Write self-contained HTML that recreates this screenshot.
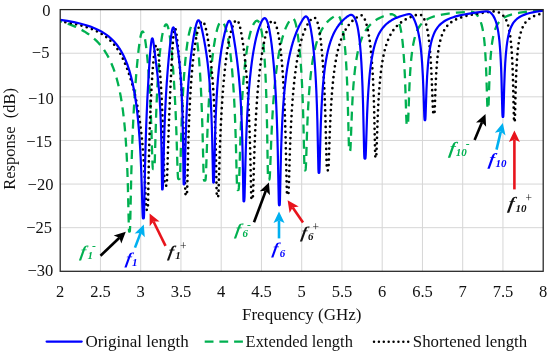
<!DOCTYPE html>
<html><head><meta charset="utf-8"><title>Response vs Frequency</title>
<style>
html,body{margin:0;padding:0;background:#fff}
body{width:550px;height:357px;overflow:hidden}
svg{display:block}
text{font-family:"Liberation Serif","Times New Roman",serif}
.tk{font-size:16.5px}
.ax{font-size:17px}
.lg{font-size:17px}
.fl{font-size:16.5px;font-style:italic;font-weight:bold}
.sb{font-size:11px}
.sp{font-size:11.5px;font-weight:normal;font-style:normal}
</style></head><body>
<svg width="550" height="357" viewBox="0 0 550 357" fill="#111">
<rect width="550" height="357" fill="#fff"/>
<path d="M100.45 9.6 V271.3 M140.70 9.6 V271.3 M180.95 9.6 V271.3 M221.20 9.6 V271.3 M261.45 9.6 V271.3 M301.70 9.6 V271.3 M341.95 9.6 V271.3 M382.20 9.6 V271.3 M422.45 9.6 V271.3 M462.70 9.6 V271.3 M502.95 9.6 V271.3 M60.2 53.22 H543.2 M60.2 96.83 H543.2 M60.2 140.45 H543.2 M60.2 184.07 H543.2 M60.2 227.68 H543.2" stroke="#d6d6d6" stroke-width="1" fill="none"/>
<clipPath id="c"><rect x="60.2" y="9.6" width="483.0" height="261.7"/></clipPath>
<g clip-path="url(#c)" fill="none" stroke-linejoin="round">
<path d="M60.20 21.35 L65.75 23.06 L70.90 24.90 L75.70 26.90 L80.15 29.05 L84.30 31.38 L88.20 33.92 L91.80 36.63 L93.55 38.10 L95.20 39.60 L96.80 41.15 L98.35 42.78 L101.25 46.16 L103.95 49.80 L106.50 53.77 L108.85 58.01 L111.05 62.61 L113.05 67.45 L114.90 72.65 L116.55 78.03 L118.05 83.69 L119.45 89.82 L120.70 96.21 L121.85 103.08 L122.90 110.46 L123.85 118.35 L124.70 126.78 L125.35 134.42 L125.95 142.73 L126.50 151.82 L126.95 160.74 L127.45 172.92 L127.90 187.01 L128.85 228.12 L129.05 231.25 L129.15 231.56 L129.50 231.60 L129.65 231.57 L129.75 231.45 L129.90 230.76 L130.15 225.99 L131.25 175.47 L131.70 159.58 L132.25 143.60 L133.30 119.60 L133.90 108.38 L134.60 96.83 L135.55 83.14 L136.55 70.60 L137.65 58.63 L138.70 48.88 L139.70 41.29 L140.60 36.15 L141.05 34.25 L141.50 32.84 L141.95 31.93 L142.35 31.54 L142.70 31.52 L143.05 31.80 L143.35 32.29 L143.70 33.14 L144.35 35.51 L145.05 39.15 L145.75 43.82 L146.50 49.88 L147.25 57.03 L147.95 64.77 L148.65 73.70 L149.30 83.31 L149.90 93.64 L150.45 104.73 L151.25 124.79 L152.25 157.46 L152.55 165.03 L152.75 167.63 L152.95 168.68 L153.05 168.87 L153.20 168.98 L153.95 168.99 L154.20 168.83 L154.40 168.10 L154.55 166.62 L154.70 163.90 L156.05 117.75 L156.60 103.08 L157.25 89.03 L157.80 79.18 L158.45 69.34 L159.15 60.46 L159.90 52.49 L160.90 43.89 L161.95 36.87 L162.50 33.89 L163.05 31.35 L163.60 29.20 L164.20 27.31 L164.80 25.86 L165.35 24.96 L165.65 24.64 L165.90 24.48 L166.15 24.42 L166.40 24.46 L166.65 24.60 L166.90 24.84 L167.40 25.65 L167.90 26.91 L168.40 28.65 L169.00 31.41 L169.60 34.89 L170.20 39.07 L170.85 44.38 L172.10 56.77 L173.30 71.57 L174.55 90.89 L175.65 112.88 L176.40 132.15 L177.45 166.26 L177.80 175.00 L178.00 177.52 L178.20 178.59 L178.35 178.88 L178.50 178.98 L179.35 178.99 L179.55 178.91 L179.65 178.76 L179.85 177.84 L180.00 176.14 L180.15 173.18 L181.50 127.17 L182.10 111.35 L182.75 97.40 L183.35 86.66 L184.00 76.75 L184.70 67.63 L185.50 58.79 L186.50 49.63 L187.55 41.87 L188.65 35.47 L189.20 32.86 L189.80 30.44 L190.40 28.45 L191.00 26.88 L191.60 25.74 L192.15 25.09 L192.45 24.90 L192.70 24.84 L193.00 24.88 L193.25 25.02 L193.80 25.64 L194.30 26.61 L195.05 28.86 L195.75 31.86 L196.45 35.79 L197.15 40.68 L197.85 46.60 L198.50 53.09 L199.10 60.05 L199.70 68.09 L200.30 77.40 L200.85 87.34 L201.35 97.86 L201.85 110.23 L202.55 132.00 L203.45 169.26 L203.70 176.95 L203.85 179.25 L204.05 180.38 L204.25 180.59 L205.05 180.59 L205.25 180.51 L205.40 180.29 L205.60 179.46 L205.80 177.46 L205.95 174.89 L207.60 127.28 L208.30 111.73 L209.05 98.06 L209.80 86.62 L210.65 75.64 L211.60 65.28 L212.60 56.06 L213.85 46.50 L215.15 38.47 L215.80 35.10 L216.50 31.92 L217.20 29.19 L217.90 26.89 L218.60 25.01 L219.30 23.54 L220.00 22.48 L220.70 21.83 L221.05 21.65 L221.40 21.56 L221.80 21.59 L222.15 21.71 L222.85 22.26 L223.60 23.27 L224.20 24.39 L224.80 25.78 L225.40 27.45 L226.00 29.39 L227.15 33.93 L228.30 39.64 L229.35 46.02 L230.35 53.34 L231.30 61.67 L232.15 70.54 L232.95 80.48 L233.70 91.64 L234.35 103.27 L234.95 116.24 L235.80 140.23 L236.80 179.73 L237.05 186.83 L237.20 188.87 L237.35 189.71 L237.55 189.98 L238.20 190.00 L238.40 189.95 L238.55 189.76 L238.75 188.84 L238.90 187.14 L239.05 184.17 L240.45 136.80 L241.05 121.31 L241.75 106.70 L242.40 95.51 L243.15 84.65 L243.95 74.91 L244.80 66.16 L245.90 56.73 L247.10 48.34 L248.40 41.01 L249.75 34.94 L250.50 32.14 L251.25 29.70 L252.00 27.59 L252.80 25.67 L253.60 24.06 L254.45 22.68 L255.30 21.64 L256.10 20.98 L256.75 20.73 L257.35 20.75 L257.95 21.05 L258.55 21.66 L259.10 22.52 L259.65 23.71 L260.20 25.26 L260.70 27.02 L261.65 31.42 L262.55 37.17 L263.35 43.96 L264.05 51.63 L264.75 61.46 L265.35 72.22 L265.90 84.73 L266.35 97.65 L267.05 125.40 L267.80 170.59 L267.95 176.81 L268.05 178.73 L268.15 179.45 L268.30 179.67 L268.85 179.69 L269.10 179.64 L269.25 179.51 L269.50 178.79 L269.70 177.31 L269.90 174.62 L270.20 168.28 L271.10 144.16 L271.75 129.16 L272.50 115.00 L273.35 101.95 L274.20 91.17 L275.10 81.56 L276.10 72.53 L277.20 64.13 L278.60 55.20 L280.10 47.32 L280.90 43.70 L281.75 40.22 L282.60 37.09 L283.50 34.12 L284.45 31.31 L285.40 28.83 L286.45 26.41 L287.50 24.29 L288.65 22.29 L289.85 20.51 L290.90 19.24 L291.80 18.48 L292.45 18.23 L293.00 18.30 L293.55 18.69 L294.10 19.41 L294.60 20.37 L295.10 21.67 L295.60 23.32 L296.10 25.34 L297.15 30.78 L298.20 37.83 L299.20 46.17 L300.10 55.40 L300.75 63.43 L301.35 72.20 L301.90 81.81 L302.35 91.20 L302.90 105.34 L303.35 120.14 L304.40 166.79 L304.50 168.79 L304.65 170.03 L304.80 170.27 L305.15 170.29 L305.35 170.25 L305.45 170.13 L305.60 169.64 L305.75 168.45 L305.90 166.21 L306.15 160.06 L306.95 134.82 L307.45 121.81 L308.15 107.41 L308.95 94.68 L309.85 83.50 L310.85 73.69 L312.00 64.74 L313.25 57.00 L314.00 53.10 L314.80 49.41 L315.65 45.96 L316.55 42.72 L317.50 39.70 L318.55 36.77 L319.65 34.06 L320.80 31.58 L322.00 29.30 L323.30 27.12 L324.65 25.15 L326.10 23.30 L327.60 21.63 L329.20 20.10 L330.85 18.74 L332.75 17.38 L334.30 16.38 L335.45 15.74 L336.30 15.37 L337.00 15.23 L337.65 15.31 L338.25 15.61 L338.85 16.17 L339.45 17.02 L340.05 18.21 L340.65 19.79 L341.20 21.61 L341.75 23.81 L342.80 29.21 L343.75 35.71 L344.55 42.74 L345.25 50.42 L345.90 59.25 L346.50 69.38 L347.15 83.41 L347.70 98.94 L348.95 147.86 L349.05 149.66 L349.20 150.96 L349.30 151.26 L349.40 151.36 L349.85 151.39 L350.00 151.35 L350.10 151.22 L350.25 150.69 L350.40 149.46 L350.55 147.26 L352.00 109.34 L352.65 96.91 L353.35 86.50 L354.10 77.66 L355.00 69.24 L356.00 61.83 L357.10 55.32 L357.75 52.09 L358.45 49.01 L359.20 46.09 L360.00 43.33 L360.85 40.75 L361.75 38.34 L362.70 36.09 L363.70 33.99 L364.75 32.04 L365.90 30.16 L367.10 28.42 L368.40 26.76 L369.75 25.24 L371.20 23.79 L372.75 22.42 L374.40 21.14 L376.35 19.82 L378.40 18.61 L380.60 17.50 L382.90 16.50 L385.70 15.47 L388.55 14.62 L390.30 14.26 L391.65 14.22 L392.80 14.45 L393.90 14.93 L394.95 15.70 L395.90 16.68 L396.85 18.01 L397.70 19.54 L398.50 21.37 L399.20 23.35 L399.85 25.59 L400.45 28.07 L401.00 30.79 L401.55 34.02 L402.50 41.19 L403.35 50.00 L404.15 61.39 L404.85 75.05 L405.35 87.84 L406.20 115.12 L406.45 121.31 L406.60 123.52 L406.80 124.92 L406.90 125.20 L407.05 125.36 L407.60 125.40 L407.70 125.37 L407.80 125.23 L407.95 124.54 L408.20 120.94 L409.25 90.51 L409.70 80.57 L410.20 71.88 L410.70 64.97 L411.25 58.83 L411.85 53.41 L412.55 48.31 L413.40 43.39 L414.40 38.87 L415.50 35.00 L416.75 31.59 L417.45 30.01 L418.15 28.63 L418.95 27.24 L419.75 26.01 L420.60 24.87 L421.55 23.75 L422.50 22.77 L423.55 21.82 L424.60 20.98 L425.75 20.17 L428.20 18.76 L431.00 17.50 L434.20 16.39 L437.80 15.42 L441.95 14.56 L446.65 13.81 L452.00 13.15 L456.45 12.71 L461.15 12.33 L469.65 11.74 L471.45 11.75 L472.30 11.89 L473.10 12.13 L473.90 12.48 L474.65 12.92 L475.45 13.52 L476.25 14.25 L477.00 15.05 L477.70 15.93 L478.85 17.70 L479.85 19.68 L480.75 21.94 L481.60 24.64 L482.35 27.68 L483.00 30.98 L483.60 34.79 L484.15 39.17 L484.65 44.15 L485.10 49.74 L485.85 62.55 L486.40 76.24 L487.10 99.80 L487.35 106.22 L487.45 107.64 L487.60 108.68 L487.75 108.96 L488.05 109.00 L488.15 108.97 L488.25 108.79 L488.35 108.26 L488.55 105.41 L489.40 79.99 L490.05 65.67 L490.65 56.52 L491.40 48.35 L491.90 44.22 L492.45 40.50 L493.05 37.18 L493.70 34.24 L494.45 31.47 L495.25 29.07 L496.15 26.87 L497.15 24.89 L498.25 23.12 L499.50 21.50 L500.90 20.04 L502.45 18.74 L504.20 17.57 L506.10 16.54 L508.25 15.61 L510.60 14.79 L513.30 14.03 L516.35 13.34 L519.75 12.72 L523.60 12.15 L528.00 11.62 L532.90 11.15 L538.30 10.73 L543.20 10.45" stroke="#00b050" stroke-width="2.3" stroke-dasharray="9 6.2" stroke-dashoffset="7.3"/>
<path d="M60.20 21.35 L66.95 22.41 L73.10 23.57 L78.75 24.85 L83.95 26.27 L88.75 27.84 L93.20 29.57 L97.30 31.48 L101.05 33.54 L104.55 35.82 L106.20 37.04 L107.80 38.32 L109.35 39.67 L110.85 41.08 L112.30 42.57 L113.65 44.07 L114.95 45.63 L116.25 47.33 L118.65 50.85 L120.90 54.71 L123.00 58.92 L125.60 64.88 L128.00 71.06 L130.20 77.45 L132.25 84.19 L134.10 91.12 L135.80 98.42 L137.35 106.08 L138.75 114.12 L139.80 121.08 L140.80 128.69 L141.70 136.62 L142.50 144.84 L143.40 155.89 L144.20 168.01 L144.75 178.05 L145.75 199.44 L146.10 205.62 L146.30 207.91 L146.55 209.42 L146.80 209.92 L146.95 209.99 L147.35 210.00 L147.50 209.98 L147.60 209.89 L147.75 209.28 L147.90 207.17 L148.00 204.38 L148.75 166.55 L149.25 145.47 L149.90 124.31 L150.70 104.20 L151.60 86.44 L152.55 71.58 L153.55 59.47 L154.05 54.75 L154.55 50.97 L155.15 47.72 L155.45 46.63 L155.75 45.90 L156.05 45.51 L156.20 45.45 L156.35 45.48 L156.65 45.79 L156.95 46.45 L157.25 47.46 L157.55 48.80 L158.15 52.48 L158.75 57.44 L159.40 64.16 L160.15 73.60 L160.90 84.92 L161.60 97.44 L162.20 110.08 L163.15 135.26 L164.25 174.47 L164.55 182.24 L164.75 184.63 L164.95 185.48 L165.10 185.65 L165.30 185.70 L166.10 185.69 L166.35 185.55 L166.55 185.08 L166.75 183.81 L167.10 178.09 L168.35 138.97 L169.20 115.82 L170.40 88.25 L171.85 59.16 L172.70 44.76 L173.40 35.86 L173.75 32.70 L174.10 30.42 L174.45 28.96 L174.65 28.47 L174.85 28.22 L174.95 28.19 L175.10 28.26 L175.40 28.79 L175.70 29.80 L176.05 31.50 L176.75 36.20 L177.60 43.47 L178.65 53.93 L179.70 65.72 L180.65 77.75 L181.50 90.02 L182.55 108.14 L183.45 127.89 L184.25 151.22 L185.20 187.47 L185.40 192.45 L185.50 193.88 L185.65 194.96 L185.75 195.25 L185.90 195.38 L186.50 195.39 L186.70 195.27 L186.90 194.43 L187.05 192.53 L187.30 185.48 L188.35 142.59 L188.80 128.57 L189.35 114.44 L190.05 99.83 L190.80 87.09 L191.65 75.25 L192.60 64.40 L193.60 55.03 L194.65 46.96 L195.80 39.77 L197.05 33.56 L197.70 30.89 L198.40 28.41 L199.10 26.29 L199.80 24.53 L200.50 23.12 L201.15 22.15 L201.80 21.56 L202.10 21.43 L202.40 21.40 L202.70 21.47 L202.95 21.61 L203.55 22.22 L204.15 23.27 L204.70 24.63 L205.30 26.54 L205.90 28.88 L207.15 34.92 L208.55 43.32 L209.85 52.72 L211.00 62.66 L212.05 73.58 L212.90 84.24 L213.65 95.62 L214.30 107.64 L214.90 121.42 L215.35 134.29 L215.75 148.49 L216.55 187.07 L216.75 194.30 L216.85 196.06 L217.00 197.05 L217.15 197.20 L217.70 197.19 L217.85 197.14 L218.00 196.97 L218.20 196.17 L218.40 194.07 L218.55 191.22 L219.60 156.93 L220.10 142.49 L220.80 125.87 L221.65 109.69 L222.50 96.51 L223.40 84.84 L224.45 73.42 L225.55 63.36 L227.00 52.39 L227.75 47.54 L228.55 42.92 L229.40 38.55 L230.25 34.71 L231.10 31.34 L232.00 28.26 L232.90 25.66 L233.85 23.41 L234.75 21.77 L235.20 21.14 L235.60 20.71 L236.00 20.42 L236.35 20.28 L236.75 20.27 L237.10 20.40 L237.50 20.72 L237.85 21.13 L238.55 22.39 L239.05 23.66 L239.60 25.41 L240.65 29.78 L241.80 35.90 L243.00 43.60 L244.10 51.88 L245.15 61.08 L246.10 70.78 L246.95 80.96 L247.70 91.55 L248.35 102.42 L248.95 114.42 L249.45 126.48 L250.25 152.07 L251.25 195.87 L251.35 197.81 L251.50 199.08 L251.65 199.37 L252.20 199.40 L252.40 199.35 L252.50 199.25 L252.70 198.61 L252.90 196.75 L253.05 194.10 L254.55 146.90 L255.20 131.25 L255.95 116.62 L256.70 104.55 L257.50 93.68 L258.40 83.28 L259.35 73.90 L260.60 63.44 L262.00 53.68 L263.50 45.02 L265.05 37.67 L265.85 34.44 L266.70 31.39 L267.55 28.72 L268.40 26.42 L269.25 24.49 L270.10 22.94 L270.90 21.85 L271.70 21.13 L272.10 20.92 L272.45 20.83 L272.80 20.83 L273.15 20.91 L273.85 21.33 L274.55 22.13 L275.25 23.33 L275.90 24.83 L276.55 26.72 L277.15 28.83 L277.80 31.55 L278.40 34.49 L279.55 41.42 L280.60 49.50 L281.60 59.13 L282.35 67.93 L283.05 77.70 L283.70 88.53 L284.30 100.51 L284.95 116.52 L285.55 135.45 L286.80 190.68 L286.95 193.59 L287.10 194.69 L287.20 194.92 L287.30 194.99 L287.80 195.00 L288.00 194.97 L288.15 194.84 L288.35 194.13 L288.50 192.77 L288.65 190.32 L288.90 183.75 L289.75 155.40 L290.25 141.57 L290.95 125.92 L291.80 110.94 L292.65 98.91 L293.65 87.35 L294.70 77.36 L295.90 67.91 L297.40 58.24 L298.20 53.84 L299.05 49.64 L299.95 45.64 L300.90 41.86 L301.90 38.31 L302.90 35.14 L303.95 32.18 L305.05 29.43 L306.20 26.91 L307.40 24.62 L308.70 22.50 L310.00 20.70 L311.30 19.23 L312.50 18.19 L313.25 17.76 L313.95 17.59 L314.60 17.70 L315.20 18.06 L315.80 18.71 L316.40 19.68 L316.95 20.89 L317.50 22.45 L318.05 24.39 L318.55 26.50 L319.60 32.15 L320.55 38.85 L321.45 46.82 L322.30 56.14 L323.10 66.90 L323.85 79.31 L324.50 92.54 L325.00 104.89 L325.45 118.21 L326.50 158.90 L326.80 167.35 L326.95 169.23 L327.10 170.01 L327.30 170.27 L327.85 170.30 L328.05 170.25 L328.15 170.13 L328.35 169.37 L328.65 165.47 L329.70 135.00 L330.20 122.56 L330.90 108.70 L331.70 96.37 L332.60 85.48 L333.60 75.87 L334.75 67.05 L336.05 59.09 L336.80 55.22 L337.60 51.56 L338.45 48.10 L339.40 44.68 L340.35 41.64 L341.40 38.67 L342.50 35.92 L343.65 33.37 L344.90 30.92 L346.20 28.67 L347.55 26.61 L349.00 24.65 L350.50 22.87 L352.10 21.22 L353.80 19.69 L355.60 18.29 L357.35 17.08 L358.95 16.09 L360.00 15.56 L360.85 15.32 L361.60 15.34 L362.30 15.64 L363.00 16.23 L363.70 17.14 L364.50 18.63 L365.30 20.59 L366.10 23.00 L366.90 25.87 L367.65 29.01 L368.35 32.40 L369.00 36.01 L369.65 40.19 L370.65 48.03 L371.50 56.58 L372.30 66.97 L372.95 77.95 L373.55 91.23 L374.10 107.67 L375.15 154.00 L375.35 157.30 L375.50 157.77 L375.80 157.80 L375.95 157.75 L376.05 157.60 L376.20 156.90 L376.45 153.43 L377.75 115.88 L378.35 103.32 L379.00 92.76 L379.75 83.18 L380.55 75.06 L381.50 67.36 L382.55 60.57 L383.85 53.90 L384.55 50.89 L385.30 48.04 L386.10 45.33 L386.95 42.78 L387.85 40.38 L388.80 38.14 L389.80 36.04 L390.90 33.98 L392.05 32.08 L393.25 30.32 L394.55 28.62 L395.95 27.00 L397.40 25.51 L398.95 24.09 L400.90 22.52 L403.00 21.05 L405.25 19.68 L407.60 18.43 L410.15 17.27 L412.95 16.18 L416.60 14.94 L418.45 14.50 L419.40 14.46 L420.30 14.65 L421.15 15.06 L421.95 15.69 L422.75 16.60 L423.50 17.73 L424.20 19.05 L424.90 20.67 L425.60 22.64 L426.30 25.03 L426.95 27.71 L427.55 30.66 L428.10 33.87 L428.60 37.28 L429.55 45.48 L430.45 56.13 L431.20 68.21 L431.75 79.67 L432.70 104.23 L433.00 110.32 L433.20 112.70 L433.40 113.87 L433.50 114.14 L433.65 114.33 L433.85 114.39 L434.25 114.40 L434.40 114.21 L434.50 113.67 L434.70 110.83 L435.60 85.82 L436.25 72.76 L437.05 61.88 L437.50 57.30 L438.00 53.08 L438.60 48.92 L439.30 44.96 L440.10 41.31 L440.95 38.16 L441.90 35.29 L442.95 32.71 L444.15 30.31 L445.45 28.19 L447.15 25.96 L448.10 24.92 L449.10 23.95 L451.25 22.20 L453.70 20.61 L456.45 19.19 L459.60 17.90 L463.15 16.72 L467.15 15.65 L472.45 14.51 L478.55 13.44 L485.40 12.46 L492.35 11.55 L494.00 11.41 L495.05 11.42 L496.05 11.54 L497.00 11.76 L497.95 12.07 L499.00 12.53 L500.05 13.10 L501.05 13.75 L502.00 14.49 L502.85 15.26 L503.65 16.12 L504.35 17.00 L505.05 18.01 L505.70 19.11 L506.30 20.28 L507.40 22.97 L508.35 26.06 L509.20 29.73 L509.95 34.01 L510.60 38.89 L511.10 43.68 L511.55 49.09 L511.95 55.07 L512.35 62.58 L512.75 72.24 L513.10 83.20 L513.95 118.41 L514.15 121.51 L514.30 121.96 L514.55 122.00 L514.65 121.92 L514.75 121.45 L514.90 119.01 L515.55 92.91 L515.90 81.40 L516.35 70.42 L516.90 60.71 L517.60 51.93 L518.40 44.80 L519.35 38.76 L519.90 36.05 L520.50 33.57 L521.15 31.31 L521.90 29.13 L522.70 27.20 L523.55 25.49 L524.50 23.88 L525.55 22.41 L526.65 21.12 L527.90 19.90 L529.25 18.80 L530.75 17.78 L532.35 16.88 L534.15 16.03 L536.10 15.25 L538.25 14.54 L540.60 13.88 L543.20 13.27" stroke="#000" stroke-width="2.7" stroke-dasharray="0 5.5" stroke-dashoffset="0.3" stroke-linecap="round"/>
<path d="M60.20 19.83 L67.35 20.91 L73.90 22.12 L79.90 23.46 L85.40 24.95 L90.45 26.60 L95.05 28.41 L97.20 29.39 L99.30 30.42 L101.30 31.50 L103.25 32.66 L105.10 33.85 L106.90 35.12 L108.60 36.44 L110.25 37.82 L111.85 39.29 L113.35 40.79 L114.80 42.36 L116.20 44.02 L117.55 45.75 L118.85 47.56 L120.10 49.46 L121.30 51.44 L122.45 53.49 L123.60 55.72 L125.70 60.34 L127.60 65.24 L129.35 70.53 L130.95 76.20 L132.45 82.43 L133.85 89.28 L135.10 96.50 L136.25 104.35 L137.25 112.45 L138.05 120.06 L138.80 128.41 L139.45 136.92 L140.05 146.19 L140.70 158.39 L141.30 172.56 L141.75 185.80 L142.40 208.28 L142.65 214.82 L142.80 217.00 L142.95 218.01 L143.05 218.28 L143.15 218.37 L143.55 218.40 L143.75 218.30 L143.90 217.63 L144.10 213.82 L144.95 170.26 L145.50 147.86 L146.30 123.31 L147.30 99.89 L148.65 75.00 L149.40 63.34 L150.10 53.77 L150.70 46.89 L151.20 42.44 L151.70 39.51 L151.95 38.69 L152.20 38.31 L152.40 38.32 L152.65 38.67 L153.05 40.04 L153.45 42.33 L154.00 46.45 L157.05 71.23 L157.90 78.59 L158.85 88.28 L159.65 98.65 L160.40 111.93 L161.00 127.63 L161.50 148.72 L162.05 187.66 L162.15 189.45 L162.20 189.50 L162.45 189.48 L162.60 189.28 L162.75 188.41 L163.00 183.49 L164.05 141.48 L164.50 127.64 L165.00 114.97 L165.50 104.29 L166.10 93.33 L166.75 83.09 L167.50 72.77 L168.55 60.23 L169.70 48.34 L170.80 38.58 L171.75 31.95 L172.15 29.93 L172.50 28.63 L172.85 27.80 L173.20 27.45 L173.40 27.44 L173.60 27.58 L173.95 28.16 L174.35 29.35 L174.75 30.99 L175.65 35.73 L176.85 43.09 L177.90 50.19 L178.75 56.70 L179.45 62.89 L180.10 69.63 L180.65 76.42 L181.15 83.84 L181.85 97.34 L182.45 114.07 L183.00 138.47 L183.60 182.42 L183.70 184.26 L183.75 184.39 L184.05 184.38 L184.20 184.22 L184.35 183.51 L184.60 179.36 L185.75 136.29 L186.25 122.08 L186.80 109.43 L187.40 98.08 L188.10 87.08 L188.85 77.19 L189.70 67.68 L190.90 56.45 L192.30 45.64 L193.85 35.76 L194.60 31.66 L195.35 28.00 L195.95 25.46 L196.55 23.33 L197.10 21.82 L197.65 20.80 L197.90 20.51 L198.20 20.30 L198.45 20.24 L198.75 20.32 L199.05 20.54 L199.30 20.83 L199.85 21.86 L200.35 23.21 L200.90 25.06 L202.25 30.71 L203.90 38.85 L205.40 47.31 L206.55 54.79 L207.55 62.36 L208.45 70.37 L209.25 78.88 L209.85 86.46 L210.40 94.68 L210.90 103.64 L211.30 112.23 L211.75 124.08 L212.15 137.54 L213.05 179.17 L213.25 182.38 L213.35 182.66 L213.65 182.69 L213.80 182.48 L213.90 181.86 L214.10 177.94 L215.10 135.11 L215.55 121.17 L216.05 108.95 L216.60 98.16 L217.25 87.82 L218.00 78.11 L218.80 69.59 L219.95 59.61 L221.30 50.24 L222.85 41.56 L224.60 33.51 L225.55 29.71 L226.45 26.46 L227.20 24.11 L227.90 22.34 L228.50 21.30 L228.80 20.99 L229.05 20.85 L229.30 20.83 L229.60 20.96 L229.90 21.24 L230.20 21.68 L230.70 22.78 L231.20 24.35 L231.75 26.57 L232.30 29.22 L233.80 37.75 L235.55 49.03 L236.90 58.83 L238.00 68.02 L238.95 77.34 L239.80 87.36 L240.40 95.85 L240.90 104.22 L241.40 114.30 L241.80 124.15 L242.25 138.15 L242.60 152.44 L243.40 199.10 L243.55 201.27 L243.65 201.40 L243.95 201.39 L244.15 201.22 L244.30 200.58 L244.55 196.77 L245.45 161.91 L245.90 146.83 L246.55 129.56 L247.25 114.96 L248.05 101.60 L248.95 89.41 L249.95 78.31 L251.10 67.80 L251.85 61.92 L252.60 56.67 L253.45 51.34 L254.30 46.58 L255.20 42.07 L256.15 37.83 L257.15 33.88 L258.15 30.39 L259.25 27.05 L260.40 24.05 L261.55 21.55 L262.60 19.76 L263.10 19.10 L263.55 18.64 L264.00 18.32 L264.40 18.17 L264.80 18.16 L265.20 18.30 L265.60 18.58 L266.00 19.02 L266.60 20.00 L267.15 21.24 L267.70 22.83 L268.25 24.78 L268.80 27.08 L269.40 29.99 L270.55 36.72 L271.65 44.68 L272.70 53.87 L273.65 63.85 L274.50 74.53 L275.15 84.17 L275.75 94.58 L276.30 105.84 L276.75 116.73 L277.30 132.94 L277.75 149.74 L278.75 200.70 L278.85 203.29 L279.00 204.94 L279.15 205.27 L279.50 205.30 L279.65 205.15 L279.75 204.60 L279.95 200.59 L280.65 167.46 L281.05 152.09 L281.60 135.97 L282.25 121.56 L283.05 107.97 L283.95 96.08 L285.00 85.12 L286.25 74.76 L286.95 69.86 L287.75 64.86 L288.60 60.14 L289.50 55.66 L290.45 51.43 L291.45 47.41 L292.55 43.44 L293.70 39.70 L294.95 36.04 L296.30 32.48 L297.70 29.16 L299.15 26.06 L300.90 22.71 L302.65 19.73 L303.95 17.84 L304.50 17.21 L305.00 16.76 L305.65 16.44 L306.00 16.41 L306.30 16.47 L306.90 16.85 L307.50 17.59 L308.05 18.62 L308.60 20.00 L309.15 21.74 L309.75 24.04 L310.35 26.76 L310.95 29.90 L312.10 37.18 L313.15 45.58 L314.05 54.58 L314.75 63.14 L315.35 71.95 L315.90 81.65 L316.40 92.34 L316.90 105.56 L317.35 120.66 L318.40 169.19 L318.60 172.38 L318.75 172.85 L319.05 172.90 L319.15 172.88 L319.25 172.77 L319.35 172.34 L319.55 169.48 L320.35 138.85 L320.80 124.45 L321.40 109.93 L322.10 97.25 L322.95 85.60 L323.90 75.65 L325.05 66.36 L325.70 62.05 L326.35 58.24 L327.10 54.37 L327.95 50.53 L328.80 47.16 L329.75 43.84 L330.75 40.77 L331.85 37.80 L333.00 35.06 L334.20 32.54 L335.55 30.02 L336.95 27.72 L338.45 25.54 L340.05 23.48 L341.75 21.54 L343.50 19.78 L345.45 18.05 L347.45 16.48 L348.75 15.62 L349.75 15.11 L350.65 14.87 L351.45 14.89 L352.25 15.16 L353.05 15.72 L353.80 16.55 L354.55 17.71 L355.25 19.12 L355.90 20.78 L356.55 22.81 L357.15 25.10 L357.70 27.61 L358.25 30.58 L359.25 37.49 L360.00 44.35 L360.70 52.51 L361.35 62.15 L361.90 72.40 L362.50 86.66 L363.05 103.84 L364.20 154.14 L364.30 156.39 L364.45 158.04 L364.55 158.43 L364.65 158.56 L365.10 158.60 L365.25 158.57 L365.35 158.45 L365.50 157.89 L365.75 154.75 L367.10 114.55 L367.65 102.56 L368.30 91.46 L369.00 82.04 L369.80 73.47 L370.70 65.78 L371.70 58.95 L372.90 52.44 L373.60 49.27 L374.30 46.47 L375.05 43.81 L375.85 41.31 L376.70 38.95 L377.65 36.63 L378.60 34.58 L379.65 32.59 L380.75 30.75 L381.90 29.06 L383.15 27.44 L384.45 25.95 L385.85 24.55 L387.30 23.26 L389.30 21.73 L391.45 20.33 L393.80 19.04 L396.30 17.87 L398.75 16.91 L401.40 16.03 L407.45 14.31 L408.90 14.04 L409.75 14.11 L410.50 14.41 L411.25 14.94 L412.00 15.73 L412.75 16.81 L413.50 18.15 L414.35 19.93 L415.15 21.85 L416.15 24.63 L417.10 27.73 L417.95 31.02 L418.70 34.44 L419.40 38.23 L420.05 42.40 L420.65 47.01 L421.15 51.59 L421.65 57.03 L422.10 62.93 L422.85 75.82 L423.40 88.93 L424.35 117.01 L424.60 119.82 L424.75 120.23 L425.05 120.30 L425.20 120.16 L425.35 119.31 L425.55 116.11 L426.45 90.16 L427.15 75.78 L427.90 65.24 L428.35 60.41 L428.85 55.94 L429.45 51.51 L430.15 47.29 L430.90 43.59 L431.75 40.17 L432.70 37.05 L433.70 34.36 L434.85 31.81 L436.10 29.55 L437.60 27.35 L439.25 25.38 L441.10 23.60 L443.15 22.01 L445.45 20.55 L448.00 19.24 L450.90 18.03 L454.10 16.93 L456.80 16.16 L459.75 15.42 L463.00 14.72 L466.50 14.07 L473.60 12.96 L485.60 11.41 L487.05 11.33 L488.30 11.51 L489.45 11.96 L490.55 12.70 L491.30 13.37 L492.05 14.19 L492.75 15.09 L493.45 16.14 L494.65 18.39 L495.75 21.13 L496.70 24.24 L497.55 27.90 L498.30 32.12 L498.95 36.85 L499.45 41.46 L499.90 46.59 L500.30 52.20 L500.70 59.16 L501.10 67.97 L501.45 77.80 L502.40 113.38 L502.50 115.32 L502.65 116.67 L502.80 116.98 L503.05 117.00 L503.20 116.83 L503.30 116.23 L503.50 112.49 L504.20 86.82 L504.70 73.17 L505.20 63.41 L505.80 54.87 L506.65 46.33 L507.15 42.56 L507.70 39.13 L508.30 36.05 L508.95 33.30 L509.65 30.84 L510.40 28.66 L511.30 26.50 L512.25 24.63 L513.30 22.92 L514.45 21.39 L515.75 19.97 L517.15 18.71 L518.75 17.53 L520.50 16.48 L522.45 15.51 L524.65 14.61 L527.05 13.80 L529.75 13.05 L532.80 12.34 L536.15 11.70 L540.00 11.11 L543.20 10.72" stroke="#0000ff" stroke-width="2.2"/>
</g>
<rect x="60.2" y="9.6" width="483.0" height="261.7" fill="none" stroke="#222" stroke-width="1.25"/>
<text class="tk" x="50.5" y="16.4" text-anchor="end">0</text>
<text class="tk" x="49.4" y="57.9" text-anchor="end">−5</text>
<text class="tk" x="53.7" y="103.6" text-anchor="end">−10</text>
<text class="tk" x="52.1" y="146.8" text-anchor="end">−15</text>
<text class="tk" x="53.4" y="190.0" text-anchor="end">−20</text>
<text class="tk" x="52.1" y="232.9" text-anchor="end">−25</text>
<text class="tk" x="53.2" y="275.8" text-anchor="end">−30</text>
<text class="tk" x="60.2" y="296.8" text-anchor="middle">2</text>
<text class="tk" x="100.5" y="296.8" text-anchor="middle">2.5</text>
<text class="tk" x="140.7" y="296.8" text-anchor="middle">3</text>
<text class="tk" x="181.0" y="296.8" text-anchor="middle">3.5</text>
<text class="tk" x="221.2" y="296.8" text-anchor="middle">4</text>
<text class="tk" x="261.5" y="296.8" text-anchor="middle">4.5</text>
<text class="tk" x="301.7" y="296.8" text-anchor="middle">5</text>
<text class="tk" x="342.0" y="296.8" text-anchor="middle">5.5</text>
<text class="tk" x="382.2" y="296.8" text-anchor="middle">6</text>
<text class="tk" x="422.5" y="296.8" text-anchor="middle">6.5</text>
<text class="tk" x="462.7" y="296.8" text-anchor="middle">7</text>
<text class="tk" x="503.0" y="296.8" text-anchor="middle">7.5</text>
<text class="tk" x="543.2" y="296.8" text-anchor="middle">8</text>
<text class="ax" x="301.7" y="320.3" text-anchor="middle">Frequency (GHz)</text>
<text class="ax" style="font-size:16.5px" transform="translate(14.6,138.9) rotate(-90)" text-anchor="middle">Response&#160; (dB)</text>
<line x1="46.6" y1="341.6" x2="81.7" y2="341.6" stroke="#0000ff" stroke-width="2.2" stroke-linecap="round"/>
<text class="lg" x="85.4" y="346.8">Original length</text>
<line x1="204.7" y1="341.7" x2="243" y2="341.7" stroke="#00b050" stroke-width="2.3" stroke-dasharray="8.8 5.9"/>
<text class="lg" x="245.6" y="346.8" textLength="107.3" lengthAdjust="spacingAndGlyphs">Extended length</text>
<line x1="374.0" y1="341.8" x2="409.3" y2="341.8" stroke="#000" stroke-width="2.5" stroke-dasharray="0 4.89" stroke-linecap="round"/>
<text class="lg" x="412.8" y="346.8" textLength="114.4" lengthAdjust="spacingAndGlyphs">Shortened length</text>
<line x1="100.5" y1="255.8" x2="119.4" y2="237.8" stroke="#000" stroke-width="2.6"/><polygon points="125.8,231.7 121.3,243.6 119.4,237.8 113.7,235.6" fill="#000"/>
<line x1="135.0" y1="247.6" x2="140.6" y2="232.9" stroke="#00b0f0" stroke-width="2.6"/><polygon points="143.8,224.6 144.8,237.3 140.6,232.9 134.6,233.4" fill="#00b0f0"/>
<line x1="165.5" y1="245.8" x2="153.5" y2="221.5" stroke="#e8141c" stroke-width="2.6"/><polygon points="149.6,213.5 159.6,221.4 153.5,221.5 149.7,226.2" fill="#e8141c"/>
<line x1="254.0" y1="222.3" x2="265.8" y2="190.8" stroke="#000" stroke-width="2.6"/><polygon points="268.9,182.5 270.0,195.2 265.8,190.8 259.7,191.3" fill="#000"/>
<line x1="279.0" y1="238.4" x2="279.0" y2="220.5" stroke="#00b0f0" stroke-width="2.6"/><polygon points="279.0,211.6 284.5,223.1 279.0,220.5 273.5,223.1" fill="#00b0f0"/>
<line x1="303.0" y1="222.5" x2="292.7" y2="207.6" stroke="#e8141c" stroke-width="2.6"/><polygon points="287.6,200.3 298.7,206.6 292.7,207.6 289.6,212.9" fill="#e8141c"/>
<line x1="474.6" y1="140.0" x2="482.0" y2="122.3" stroke="#000" stroke-width="2.6"/><polygon points="485.5,114.1 486.1,126.8 482.0,122.3 476.0,122.6" fill="#000"/>
<line x1="496.5" y1="149.6" x2="500.8" y2="131.6" stroke="#00b0f0" stroke-width="2.6"/><polygon points="502.8,122.9 505.5,135.4 500.8,131.6 494.8,132.8" fill="#00b0f0"/>
<line x1="514.4" y1="189.4" x2="514.4" y2="139.4" stroke="#e8141c" stroke-width="2.6"/><polygon points="514.4,130.5 519.9,142.0 514.4,139.4 508.9,142.0" fill="#e8141c"/>
<g fill="#00b050"><text transform="translate(79.5,256.8) skewX(-10) scale(1.04,1)" class="fl" style="font-size:16.4px">f</text><text x="87.4" y="258.7" class="fl sb">1</text><text x="94.0" y="249.4" class="sp" text-anchor="middle">-</text></g>
<g fill="#0000ff"><text transform="translate(124.9,264.0) skewX(-10) scale(1.04,1)" class="fl" style="font-size:16.5px">f</text><text x="132.0" y="266.0" class="fl sb">1</text></g>
<g fill="#111"><text transform="translate(167.6,256.7) skewX(-10) scale(1.04,1)" class="fl" style="font-size:16.2px">f</text><text x="175.3" y="258.8" class="fl sb">1</text><text x="183.2" y="249.8" class="sp" text-anchor="middle">+</text></g>
<g fill="#00b050"><text transform="translate(234.6,235.2) skewX(-10) scale(1.04,1)" class="fl" style="font-size:16.5px">f</text><text x="242.5" y="237.1" class="fl sb">6</text><text x="248.9" y="227.7" class="sp" text-anchor="middle">-</text></g>
<g fill="#0000ff"><text transform="translate(271.8,254.3) skewX(-10) scale(1.04,1)" class="fl" style="font-size:16.5px">f</text><text x="279.8" y="256.5" class="fl sb">6</text></g>
<g fill="#111"><text transform="translate(300.4,237.9) skewX(-10) scale(1.04,1)" class="fl" style="font-size:16.5px">f</text><text x="308.0" y="240.2" class="fl sb">6</text><text x="315.8" y="231.1" class="sp" text-anchor="middle">+</text></g>
<g fill="#00b050"><text transform="translate(448.4,154.4) skewX(-10) scale(1.04,1)" class="fl" style="font-size:17.5px">f</text><text x="455.7" y="156.4" class="fl sb">10</text><text x="467.6" y="146.8" class="sp" text-anchor="middle">-</text></g>
<g fill="#0000ff"><text transform="translate(488.1,164.5) skewX(-10) scale(1.04,1)" class="fl" style="font-size:17.1px">f</text><text x="495.6" y="166.6" class="fl sb">10</text></g>
<g fill="#111"><text transform="translate(507.6,209.4) skewX(-10) scale(1.04,1)" class="fl" style="font-size:17.5px">f</text><text x="515.4" y="211.8" class="fl sb">10</text><text x="528.8" y="201.5" class="sp" text-anchor="middle">+</text></g>
</svg>
</body></html>
